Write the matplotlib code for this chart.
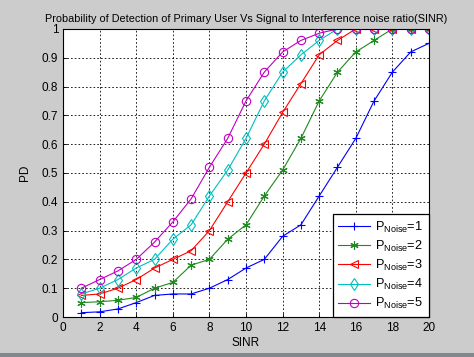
import matplotlib
matplotlib.use("Agg")
import matplotlib.pyplot as plt
from matplotlib.patches import Rectangle

plt.rcParams['font.family'] = ['Liberation Sans', 'DejaVu Sans']
plt.rcParams['mathtext.fontset'] = 'custom'
plt.rcParams['mathtext.rm'] = 'Liberation Sans'

# SINR values and detection probability for each noise level
sinr = list(range(1, 21))
pd_noise1 = [0.015, 0.018, 0.028, 0.05, 0.075, 0.08, 0.08, 0.10, 0.13, 0.17,
             0.20, 0.28, 0.32, 0.42, 0.52, 0.62, 0.75, 0.85, 0.92, 0.95]
pd_noise2 = [0.05, 0.053, 0.058, 0.068, 0.10, 0.12, 0.18, 0.20, 0.27, 0.32,
             0.42, 0.51, 0.62, 0.75, 0.85, 0.92, 0.96, 1.0, 1.0, 1.0]
pd_noise3 = [0.075, 0.08, 0.10, 0.13, 0.17, 0.20, 0.23, 0.30, 0.40, 0.50,
             0.60, 0.71, 0.81, 0.91, 0.96, 1.0, 1.0, 1.0, 1.0, 1.0]
pd_noise4 = [0.08, 0.10, 0.13, 0.17, 0.20, 0.27, 0.32, 0.42, 0.51, 0.62,
             0.75, 0.85, 0.91, 0.96, 1.0, 1.0, 1.0, 1.0, 1.0, 1.0]
pd_noise5 = [0.10, 0.13, 0.16, 0.20, 0.26, 0.33, 0.41, 0.52, 0.62, 0.75,
             0.85, 0.92, 0.96, 0.985, 1.0, 1.0, 1.0, 1.0, 1.0, 1.0]

series = [pd_noise1, pd_noise2, pd_noise3, pd_noise4, pd_noise5]
labels = [r'P$_{\mathrm{Noise}}$=%d' % (i + 1) for i in range(5)]
colors = ['#0000ff', '#1f8a1f', '#ff0000', '#00c0c0', '#c000c0']
markers = ['+', (6, 2, 0), '<', 'd', 'o']
filled = [True, True, False, False, False]

fig = plt.figure(figsize=(4.74, 3.57), dpi=100, facecolor='#cccccc')
fig.patches.append(Rectangle((0, 0), 1, 0.011, transform=fig.transFigure,
                             facecolor='#808a8e', edgecolor='none', zorder=0))
ax = fig.add_axes([0.133, 0.112, 0.772, 0.807])

for y, c, m, f, lab in zip(series, colors, markers, filled, labels):
    ax.plot(sinr, y, color=c, marker=m, markersize=6, linewidth=0.8,
            markerfacecolor=c if f else 'none',
            markeredgewidth=0.8, label=lab)

ax.set_xlim(0, 20)
ax.set_ylim(0, 1)
ax.set_xticks(range(0, 21, 2))
ax.set_yticks([i / 10 for i in range(11)])
ax.set_yticklabels(['0', '0.1', '0.2', '0.3', '0.4', '0.5', '0.6', '0.7',
                    '0.8', '0.9', '1'])
ax.tick_params(labelsize=8.5, direction='in', length=3, width=0.6)
ax.grid(True, linestyle=(0, (2, 2.5)), color='black', linewidth=0.6)
for s in ax.spines.values():
    s.set_linewidth(0.8)

ax.set_xlabel('SINR', fontsize=8.5, labelpad=2)
ax.set_ylabel('PD', fontsize=8.5, labelpad=8)
ax.set_title('Probability of Detection of Primary User Vs Signal to Interference noise ratio(SINR)',
             fontsize=7.8, pad=5)

leg = ax.legend(loc='lower right', fontsize=9.2, fancybox=False, framealpha=1,
                edgecolor='black', borderaxespad=0, handlelength=2.5,
                labelspacing=0.32, borderpad=0.45, handletextpad=0.4)
leg.get_frame().set_linewidth(0.9)

fig.savefig('out.png', dpi=100, facecolor=fig.get_facecolor())
